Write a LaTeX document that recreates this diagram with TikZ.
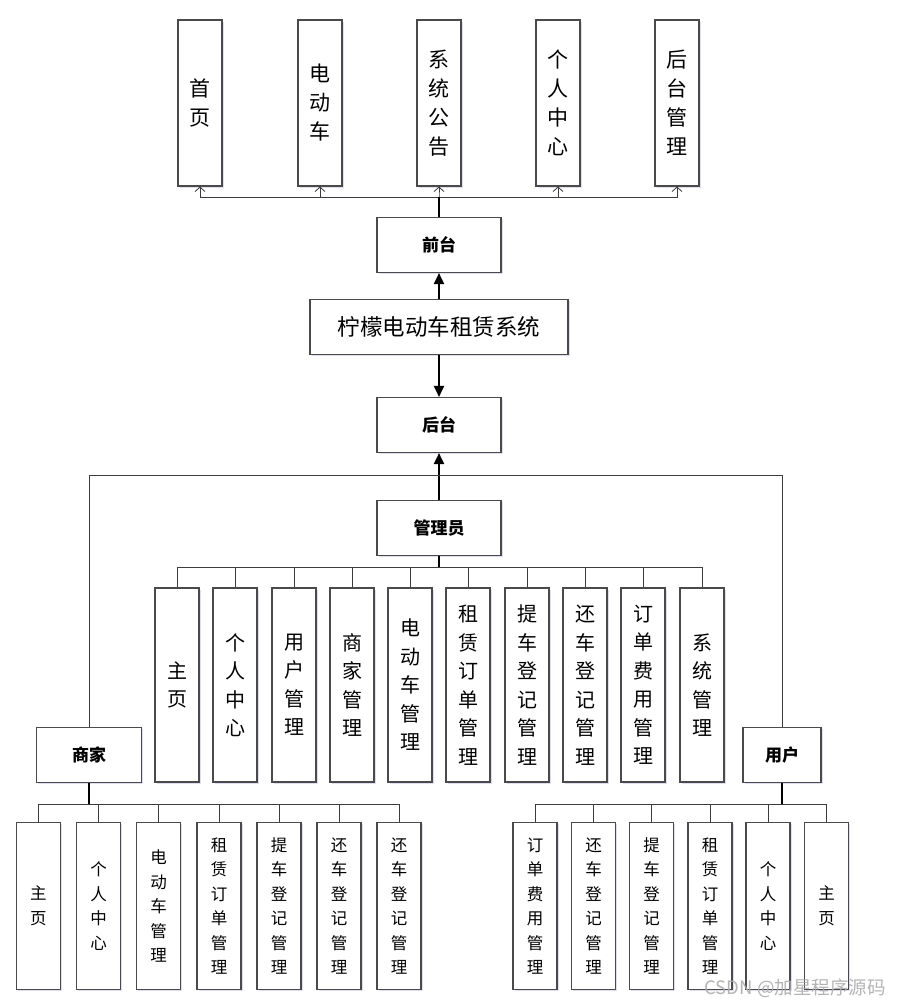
\documentclass[tikz,border=0pt]{standalone}
\usepackage{fontspec}
\newfontfamily\cjk{Noto Sans CJK SC}
\usetikzlibrary{arrows.meta,shadows}
\definecolor{boxgray}{HTML}{4A4A4A}
\definecolor{linegray}{HTML}{3C3C3C}
\begin{document}
\begin{tikzpicture}[x=1pt,y=-1pt,
  basebox/.style={draw=boxgray,line width=1.1pt,fill=white,inner sep=0pt,align=center,
    drop shadow={opacity=0.18,shadow xshift=1.5pt,shadow yshift=-1.5pt,fill=blue!40!gray}},
  hbox/.style={basebox,minimum width=124pt,minimum height=55pt,font=\cjk\bfseries\fontsize{17}{19}\selectfont},
  sbox/.style={basebox,minimum width=105pt,minimum height=55pt,font=\cjk\bfseries\fontsize{17}{19}\selectfont},
  titlebox/.style={basebox,minimum width=258pt,minimum height=55pt,font=\cjk\fontsize{22.5}{26}\selectfont},
  topbox/.style={basebox,minimum width=44pt,minimum height=166pt,font=\cjk\fontsize{21}{29}\selectfont},
  admbox/.style={basebox,minimum width=44pt,minimum height=194pt,font=\cjk\fontsize{20}{28.5}\selectfont},
  botbox/.style={basebox,minimum width=44pt,minimum height=167pt,font=\cjk\fontsize{16.5}{24.5}\selectfont},
  conn/.style={draw=linegray,line width=0.9pt},
  openarr/.style={conn,-{Straight Barb[length=4.5pt,width=10pt,line width=0.8pt]}},
  bigarr/.style={draw=black,line width=2pt,-{Triangle[length=11pt,width=10pt]}}
]
\useasboundingbox[fill=white] (0,0) rectangle (906,1007);

% top row
\node[topbox] (t1) at (200,103) {首\\页};
\node[topbox] (t2) at (320,103) {电\\动\\车};
\node[topbox] (t3) at (439,103) {系\\统\\公\\告};
\node[topbox] (t4) at (558,103) {个\\人\\中\\心};
\node[topbox] (t5) at (677,103) {后\\台\\管\\理};

\node[hbox] (qt) at (439,245) {前台};
\node[titlebox] (main) at (439,327) {柠檬电动车租赁系统};
\node[hbox] (ht) at (439,425) {后台};
\node[hbox] (gly) at (439,528) {管理员};

% admin children
\node[admbox] (a1) at (177,685) {主\\页};
\node[admbox] (a2) at (235,685) {个\\人\\中\\心};
\node[admbox] (a3) at (294,685) {用\\户\\管\\理};
\node[admbox] (a4) at (352,685) {商\\家\\管\\理};
\node[admbox] (a5) at (410,685) {电\\动\\车\\管\\理};
\node[admbox] (a6) at (468,685) {租\\赁\\订\\单\\管\\理};
\node[admbox] (a7) at (527,685) {提\\车\\登\\记\\管\\理};
\node[admbox] (a8) at (585,685) {还\\车\\登\\记\\管\\理};
\node[admbox] (a9) at (643,685) {订\\单\\费\\用\\管\\理};
\node[admbox] (a10) at (702,685) {系\\统\\管\\理};

\node[sbox] (sj) at (89,755) {商家};
\node[hbox,minimum width=78pt] (yh) at (782,755) {用户};

% merchant children
\node[botbox] (s1) at (38.5,906) {主\\页};
\node[botbox] (s2) at (98.5,906) {个\\人\\中\\心};
\node[botbox] (s3) at (158.5,906) {电\\动\\车\\管\\理};
\node[botbox] (s4) at (219,906) {租\\赁\\订\\单\\管\\理};
\node[botbox] (s5) at (279,906) {提\\车\\登\\记\\管\\理};
\node[botbox] (s6) at (339,906) {还\\车\\登\\记\\管\\理};
\node[botbox] (s7) at (399,906) {还\\车\\登\\记\\管\\理};

% user children
\node[botbox] (u1) at (535,906) {订\\单\\费\\用\\管\\理};
\node[botbox] (u2) at (593.5,906) {还\\车\\登\\记\\管\\理};
\node[botbox] (u3) at (651.5,906) {提\\车\\登\\记\\管\\理};
\node[botbox] (u4) at (710,906) {租\\赁\\订\\单\\管\\理};
\node[botbox] (u5) at (768,906) {个\\人\\中\\心};
\node[botbox] (u6) at (826.5,906) {主\\页};

% connectors top
\foreach \t in {t1,t2,t3,t4,t5}
  \draw[openarr] (qt.north) -- ++(0,-20) -| (\t.south);

\draw[bigarr] (main.north) -- (qt.south);
\draw[bigarr] (main.south) -- (ht.north);
\draw[bigarr] (gly.north) -- (ht.south);
\draw[conn] (sj.north) -- ++(0,-252) -| (yh.north);

\foreach \a in {a1,a2,a3,a4,a5,a6,a7,a8,a9,a10}
  \draw[conn] (gly.south) -- ++(0,11) -| (\a.north);
\foreach \s in {s1,s2,s3,s4,s5,s6,s7}
  \draw[conn] (sj.south) -- ++(0,21) -| (\s.north);
\foreach \u in {u1,u2,u3,u4,u5,u6}
  \draw[conn] (yh.south) -- ++(0,21) -| (\u.north);
\draw[draw=black,line width=1.8pt] (sj.south) -- ++(0,21);
\draw[draw=black,line width=1.8pt] (yh.south) -- ++(0,21);
\draw[draw=black,line width=1.3pt] (gly.south) -- ++(0,11);
\draw[draw=black,line width=1.3pt] (qt.north) -- ++(0,-20);

% watermark
\node[text=gray!65,opacity=0.9,font=\cjk\fontsize{18.5}{20}\selectfont,inner sep=0pt] (wm) at (795,988) {CSDN @加星程序源码};
\end{tikzpicture}
\end{document}
